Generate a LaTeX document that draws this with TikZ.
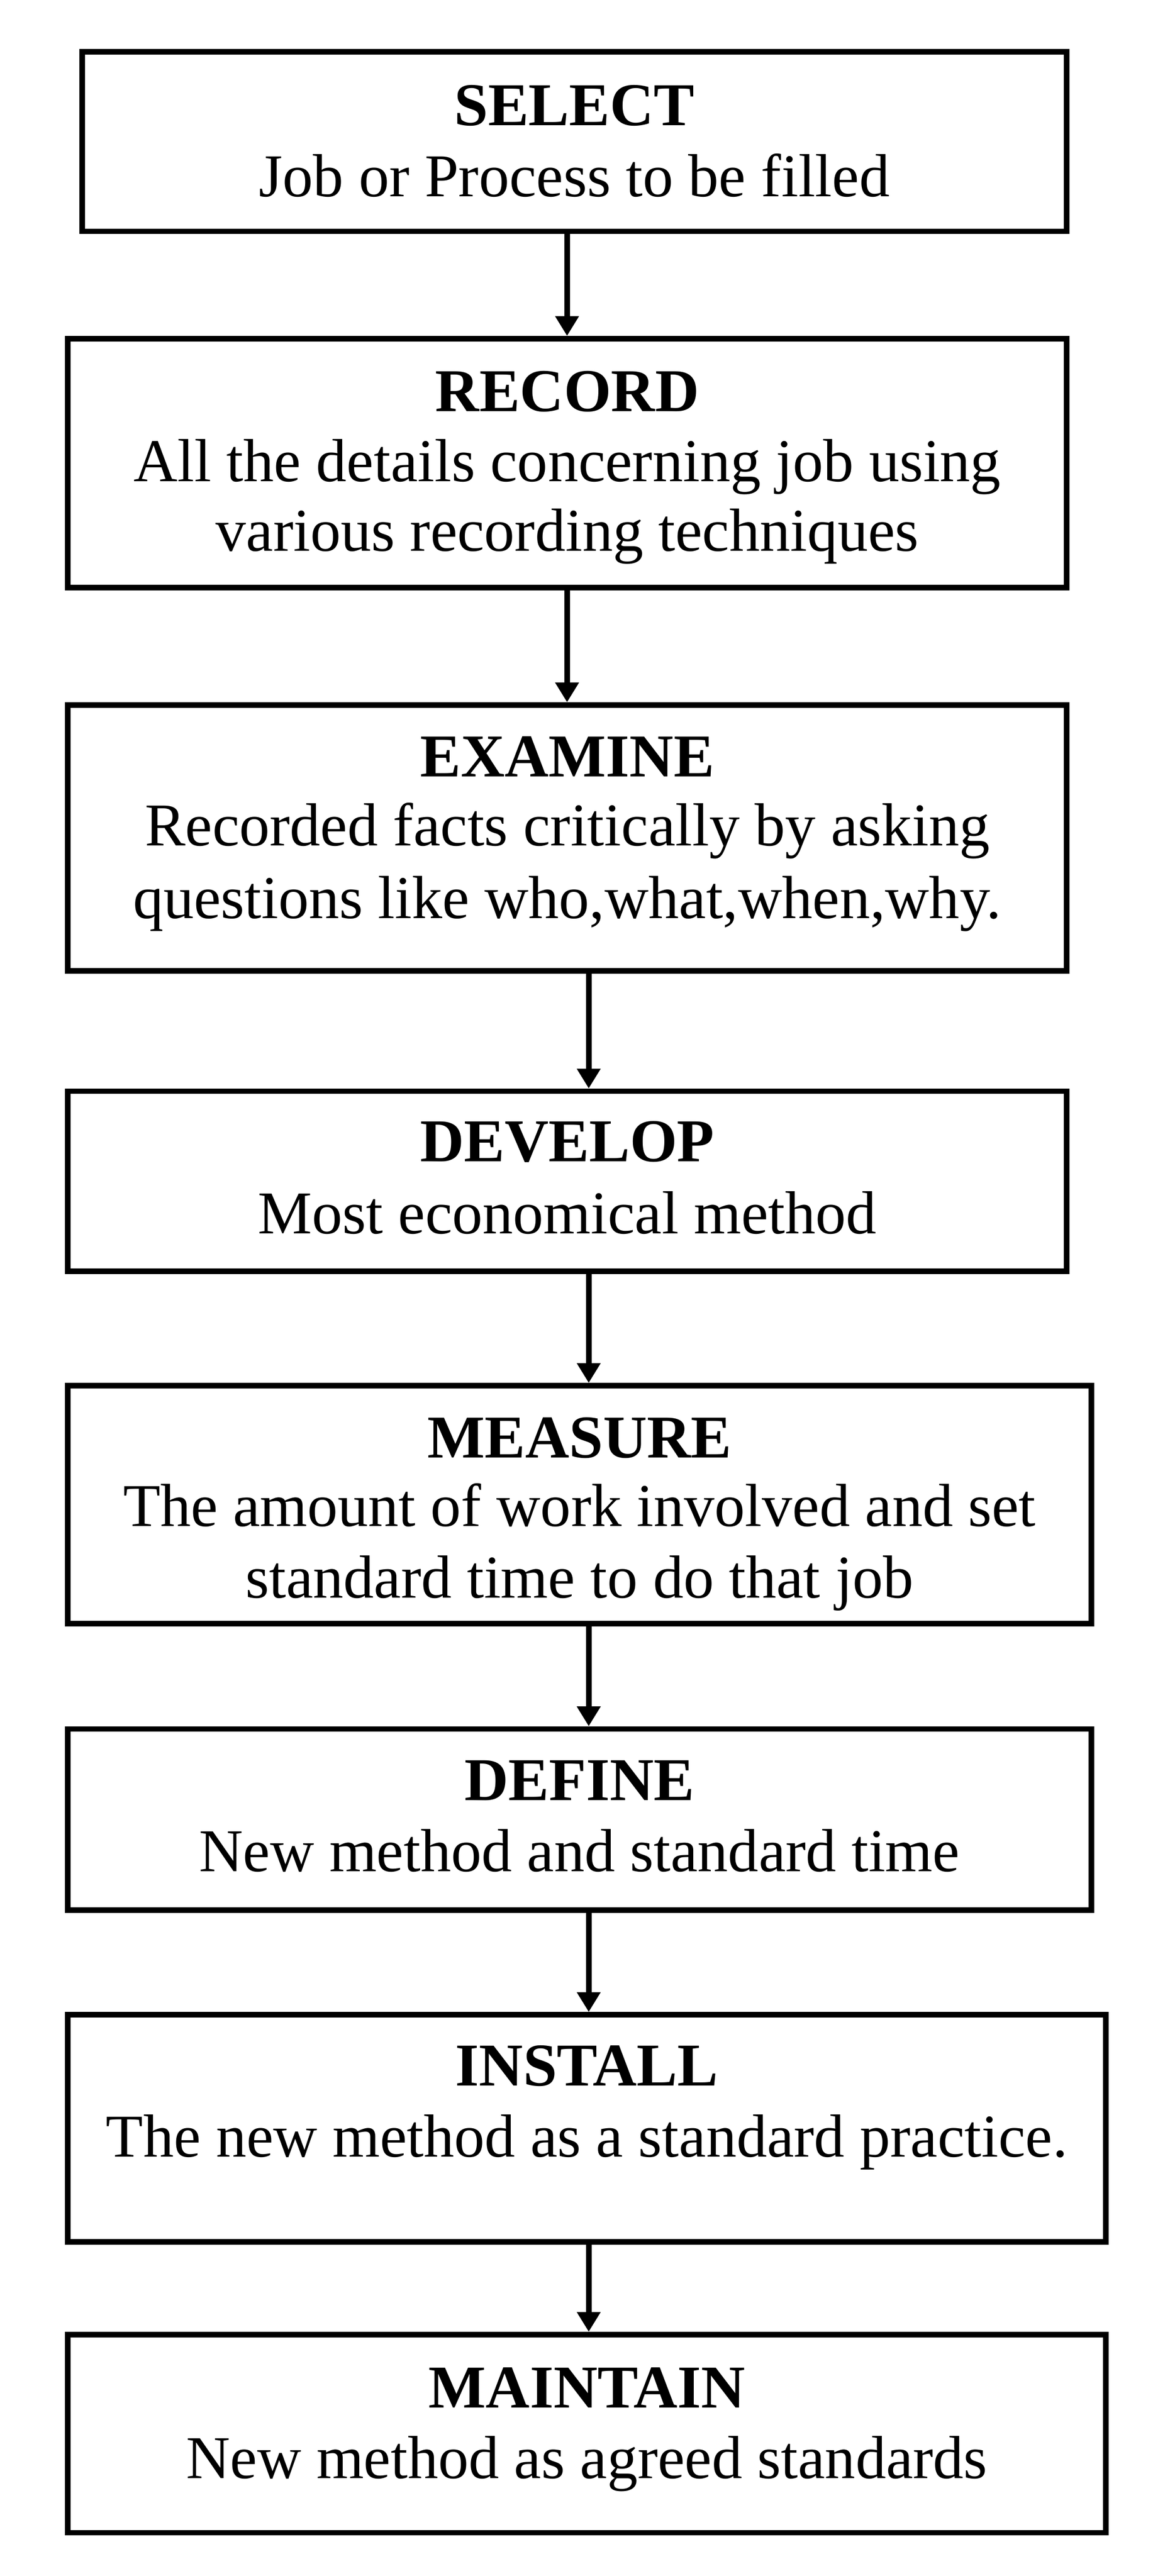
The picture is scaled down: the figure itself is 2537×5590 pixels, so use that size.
\documentclass[tikz,border=0pt]{standalone}
\usepackage{fontspec}
\setmainfont{Liberation Serif}
\usetikzlibrary{arrows.meta,calc}
\tikzset{
  box/.style={draw=black, line width=3pt, inner sep=0pt, fill=white},
  ttl/.style={anchor=base, inner sep=0pt, font=\fontsize{33}{38}\selectfont\bfseries},
  bdy/.style={anchor=base, inner sep=0pt, font=\fontsize{33}{38}\selectfont},
  flow/.style={line width=3pt, -{Triangle[length=10.75pt,width=12.25pt]}}
}
\begin{document}
\begin{tikzpicture}[x=0.25pt,y=-0.25pt]
\useasboundingbox[fill=white] (0,0) rectangle (2537,5590);
% boxes
\node[box, minimum width=534pt,   minimum height=97.5pt]   (sel) at (1246,307) {};
\node[box, minimum width=541.75pt, minimum height=135pt]   (rec) at (1230.5,1005) {};
\node[box, minimum width=541.75pt, minimum height=144.25pt] (exa) at (1230.5,1818.5) {};
\node[box, minimum width=541.75pt, minimum height=97.75pt] (dev) at (1230.5,2563.5) {};
\node[box, minimum width=555pt,   minimum height=129pt]    (mea) at (1257,3265) {};
\node[box, minimum width=555pt,   minimum height=98.25pt]  (def) at (1257,3948.5) {};
\node[box, minimum width=563pt,   minimum height=123.25pt] (ins) at (1273,4618.5) {};
\node[box, minimum width=563pt,   minimum height=107.5pt]  (mai) at (1273,5281) {};
% texts
\node[ttl] (selT) at (1246,272) {SELECT};
\node[bdy] (selB) at (1246,427) {Job or Process to be filled};
\node[ttl] (recT) at (1230.5,893) {RECORD};
\node[bdy] (recB1) at (1230.5,1045) {All the details concerning job using};
\node[bdy] (recB2) at (1230.5,1196) {various recording techniques};
\node[ttl] (exaT) at (1230.5,1685) {EXAMINE};
\node[bdy] (exaB1) at (1230.5,1835) {Recorded facts critically by asking};
\node[bdy] (exaB2) at (1230.5,1993) {questions like who,what,when,why.};
\node[ttl] (devT) at (1230.5,2521) {DEVELOP};
\node[bdy] (devB) at (1230.5,2677) {Most economical method};
\node[ttl] (meaT) at (1257,3163) {MEASURE};
\node[bdy] (meaB1) at (1257,3312) {The amount of work involved and set};
\node[bdy] (meaB2) at (1257,3467) {standard time to do that job};
\node[ttl] (defT) at (1257,3907) {DEFINE};
\node[bdy] (defB) at (1257,4061) {New method and standard time};
\node[ttl] (insT) at (1273,4526) {INSTALL};
\node[bdy] (insB) at (1273,4680) {The new method as a standard practice.};
\node[ttl] (maiT) at (1273,5225) {MAINTAIN};
\node[bdy] (maiB) at (1273,5378) {New method as agreed standards};
% connectors
\draw[flow] ($(sel.south)+(-16,0)$) -- ($(rec.north)+(-0.5,0)$);
\draw[flow] ($(rec.south)+(-0.5,0)$) -- ($(exa.north)+(-0.5,0)$);
\draw[flow] ($(exa.south)+(46.5,0)$) -- ($(dev.north)+(46.5,0)$);
\draw[flow] ($(dev.south)+(46.5,0)$) -- ($(mea.north)+(20,0)$);
\draw[flow] ($(mea.south)+(20,0)$) -- ($(def.north)+(20,0)$);
\draw[flow] ($(def.south)+(20,0)$) -- ($(ins.north)+(4,0)$);
\draw[flow] ($(ins.south)+(4,0)$) -- ($(mai.north)+(4,0)$);
\end{tikzpicture}
\end{document}
